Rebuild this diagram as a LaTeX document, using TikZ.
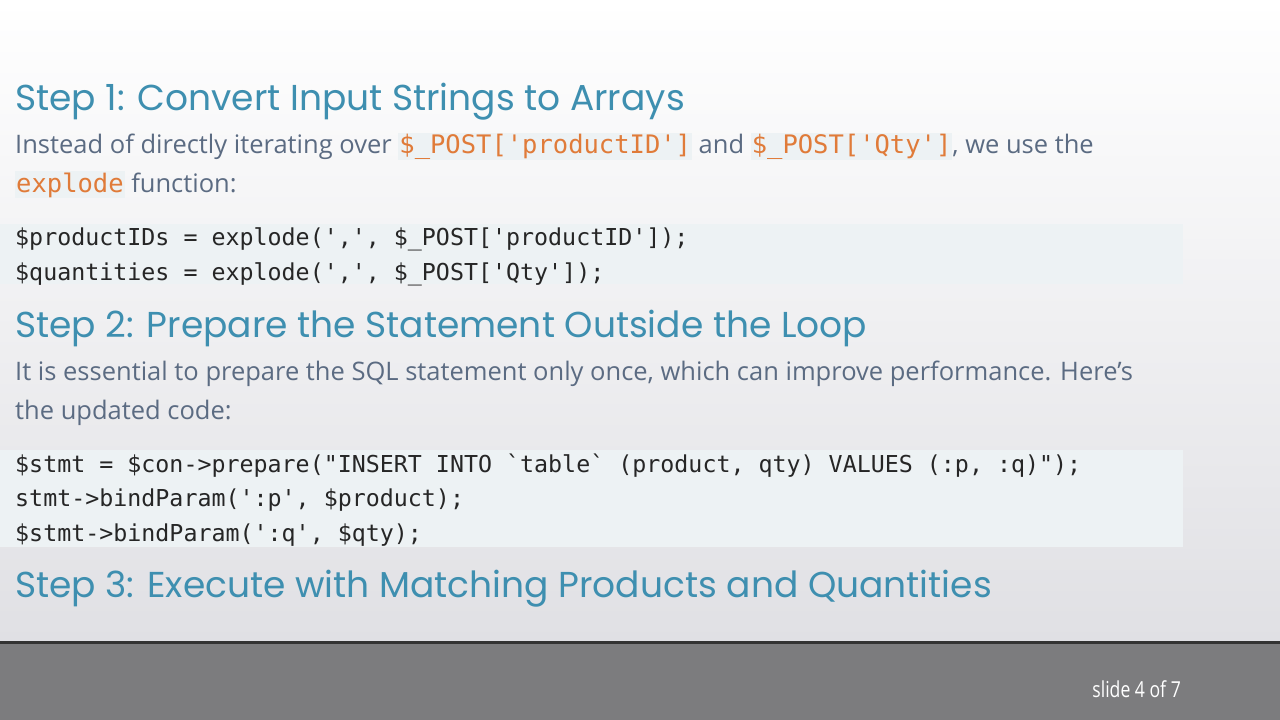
\documentclass[tikz,border=0pt]{standalone}
\usepackage{fontspec}
\setmainfont{Open Sans}
\newfontfamily\headfont{Poppins}
\newfontfamily\codefont{DejaVu Sans Mono}
\newfontfamily\footfont{Open Sans}[FakeStretch=0.8]
\definecolor{headc}{HTML}{3E8FB0}
\definecolor{bodyc}{HTML}{5B6B82}
\definecolor{codeo}{HTML}{E07B39}
\definecolor{codebg}{HTML}{EDF2F4}
\definecolor{bgtop}{HTML}{FFFFFF}
\definecolor{bgbot}{HTML}{E0E0E4}
\definecolor{band}{HTML}{7C7C7E}
\newcommand{\ic}[1]{{\setlength{\fboxsep}{1pt}\colorbox{codebg}{\codefont\color{codeo}#1}}}
\tikzset{
 head/.style={anchor=base west,inner sep=0,font=\headfont\fontsize{36}{40}\selectfont,text=headc},
 body/.style={anchor=base west,inner sep=0,font=\fontsize{25.5}{28}\selectfont,text=bodyc},
 code/.style={anchor=base west,inner sep=0,font=\codefont\fontsize{23.3}{26}\selectfont,text=black!85},
}
\begin{document}
\begin{tikzpicture}[x=1pt,y=-1pt]
\useasboundingbox (0,0) rectangle (1280,720);
\shade[top color=bgtop,bottom color=bgbot] (0,0) rectangle (1280,642);
\fill[band] (0,642) rectangle (1280,720);
\fill[black!80] (0,641) rectangle (1280,644);
\fill[codebg] (0,224) rectangle (1183,284);
\fill[codebg] (0,450) rectangle (1183,547);
\node[head] (h1) at (15,110) {Step 1: Convert Input Strings to Arrays};
\node[body] (b1) at (15,153) {Instead of directly iterating over \ic{\$\_POST['productID']} and \ic{\$\_POST['Qty']}, we use the};
\node[body] (b2) at (15,192) {\ic{explode} function:};
\node[code] (c1) at (15,245) {\$productIDs = explode(',', \$\_POST['productID']);};
\node[code] (c2) at (15,280) {\$quantities = explode(',', \$\_POST['Qty']);};
\node[head] (h2) at (15,337) {Step 2: Prepare the Statement Outside the Loop};
\node[body] (b3) at (15,380) {It is essential to prepare the SQL statement only once, which can improve performance. Here’s};
\node[body] (b4) at (15,419) {the updated code:};
\node[code] (c3) at (15,472) {\$stmt = \$con->prepare("INSERT INTO `table` (product, qty) VALUES (:p, :q)");};
\node[code] (c4) at (15,506) {stmt->bindParam(':p', \$product);};
\node[code] (c5) at (15,541) {\$stmt->bindParam(':q', \$qty);};
\node[head] (h3) at (15,597) {Step 3: Execute with Matching Products and Quantities};
\node[anchor=base east,inner sep=0,font=\footfont\fontsize{22}{24}\selectfont,text=white] (ft) at (1181,697) {slide 4 of 7};
\end{tikzpicture}
\end{document}
